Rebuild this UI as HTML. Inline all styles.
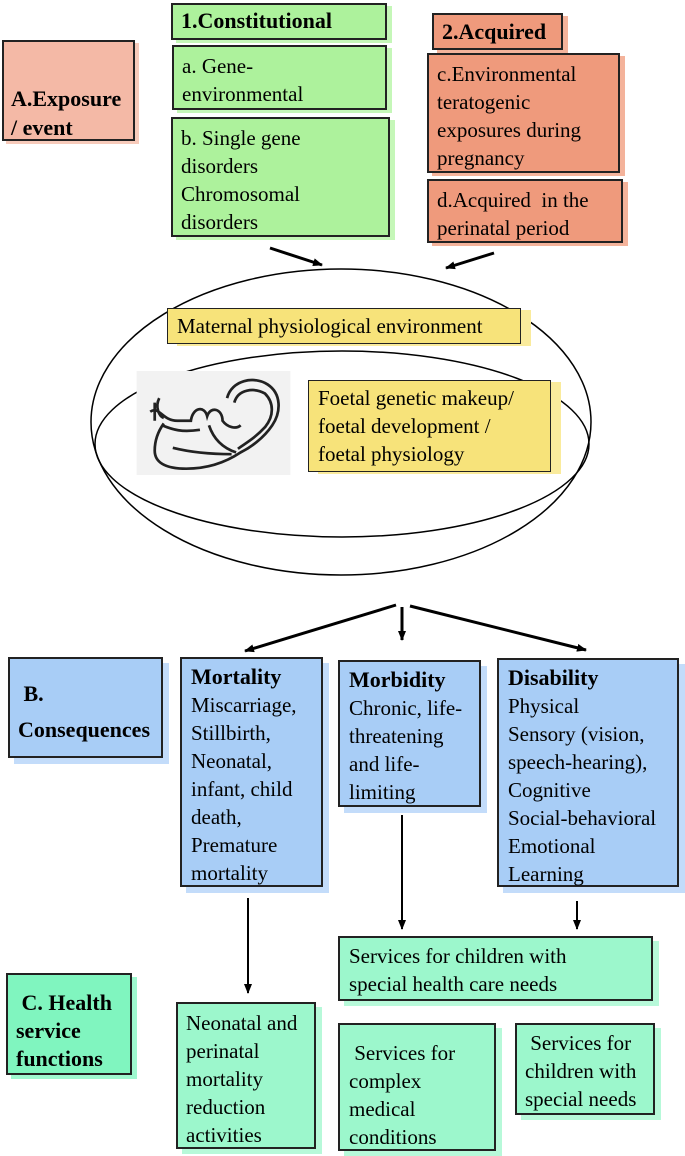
<!DOCTYPE html>
<html><head><meta charset="utf-8"><style>
body{margin:0;width:685px;height:1156px;background:#fff;position:relative;overflow:hidden;font-family:"Liberation Serif",serif;}
.b{position:absolute;box-sizing:border-box;border:2px solid #222;font-size:21px;line-height:28px;color:#000;padding:4px 0 0 12px;white-space:nowrap;}
.bold{font-weight:bold;font-size:22px;}
b{font-size:22px;}
.pk{background:#f4b9a6;box-shadow:4px 3px 0 #f7cbbb;}
.gr{background:#adf29c;box-shadow:5px 3px 0 #c5f7b8;}
.or{background:#ef9a7c;box-shadow:5px 3px 0 #f4b39b;}
.bl{background:#a8cdf6;box-shadow:6px 6px 0 #c3dcfa;}
.mg{background:#9cf7cc;box-shadow:6px 5px 0 #b7f9d9;}
.cg{background:#80f5bf;box-shadow:5px 4px 0 #9ff8cf;}
.yl{background:#f7e37a;box-shadow:10px 2px 0 #faeb9c;}
svg{position:absolute;left:0;top:0;}
</style></head><body>
<svg width="685" height="1156">
<defs><marker id="ah" markerWidth="10" markerHeight="8" refX="9" refY="4" orient="auto" markerUnits="userSpaceOnUse"><path d="M0,0 L10,4 L0,8 z" fill="#000"/></marker></defs>
<ellipse cx="341" cy="422" rx="250" ry="153" fill="none" stroke="#000" stroke-width="1.5"/>
<ellipse cx="342" cy="444" rx="247" ry="93" fill="none" stroke="#000" stroke-width="1.5"/>
<g stroke="#000" stroke-width="3" fill="none" marker-end="url(#ah)">
<line x1="270" y1="248" x2="322" y2="265"/>
<line x1="494" y1="253" x2="446" y2="268"/>
<line x1="396" y1="605" x2="245" y2="651"/>
<line x1="402" y1="607" x2="402" y2="640"/>
<line x1="410" y1="606" x2="586" y2="650"/>
</g>
<g stroke="#000" stroke-width="2" fill="none" marker-end="url(#ah)">
<line x1="248" y1="898" x2="248" y2="993"/>
<line x1="402" y1="815" x2="402" y2="929"/>
<line x1="577" y1="901" x2="577" y2="929"/>
</g>
</svg>
<div class="b pk bold" style="left:2px;top:40px;width:133px;height:101px;padding:42px 0 0 7px;line-height:29px">A.Exposure<br>/ event</div>
<div class="b gr bold" style="left:171px;top:3px;width:216px;height:37px;padding:2px 0 0 8px">1.Constitutional</div>
<div class="b gr" style="left:172px;top:45px;width:215px;height:65px;padding:5px 0 0 8px">a. Gene-<br>environmental</div>
<div class="b gr" style="left:171px;top:117px;width:219px;height:120px;padding:5px 0 0 8px">b. Single gene<br>disorders<br>Chromosomal<br>disorders</div>
<div class="b or bold" style="left:432px;top:13px;width:131px;height:37px;padding:3px 0 0 8px">2.Acquired</div>
<div class="b or" style="left:427px;top:53px;width:193px;height:120px;padding:5px 0 0 8px">c.Environmental<br>teratogenic<br>exposures during<br>pregnancy</div>
<div class="b or" style="left:427px;top:179px;width:196px;height:64px;padding:5px 0 0 8px">d.Acquired &nbsp;in the<br>perinatal period</div>
<div class="b yl" style="left:167px;top:308px;width:354px;height:36px;padding:3px 0 0 9px;border-width:1.5px">Maternal physiological environment</div>
<div class="b yl" style="left:308px;top:380px;width:243px;height:92px;padding:3px 0 0 9px;border-width:1.5px">Foetal genetic makeup/<br>foetal development /<br>foetal physiology</div>
<svg style="left:134px;top:371px" width="159" height="104" viewBox="0 0 170 115">
<rect width="170" height="115" fill="#f2f2f2"/>
<g fill="none" stroke="#222" stroke-width="3">
<path d="M100,30 C105,10 130,5 145,15 C160,25 160,45 150,60 C140,75 125,85 115,90 C100,100 80,108 55,108 C30,108 20,100 20,88 C20,75 25,65 30,58"/>
<path d="M108,35 C112,20 130,18 142,25 C152,35 152,50 142,62 C130,75 120,80 112,86"/>
<path d="M15,45 C25,38 28,55 45,55 L60,55 C62,40 75,38 78,50 C82,38 95,42 95,55 C100,62 110,65 115,60"/>
<path d="M20,35 L20,55 M28,60 C40,65 50,68 70,65 M80,60 C85,75 95,85 110,90"/>
<path d="M40,85 C60,90 80,92 105,92"/>
<path d="M25,30 C20,40 25,50 30,52"/>
</g>
</svg>
<div class="b bl bold" style="left:8px;top:657px;width:155px;height:101px;padding:17px 0 0 8px;line-height:36px">&nbsp;B.<br>Consequences</div>
<div class="b bl" style="left:180px;top:657px;width:143px;height:230px;padding:4px 0 0 9px"><b>Mortality</b><br>Miscarriage,<br>Stillbirth,<br>Neonatal,<br>infant, child<br>death,<br>Premature<br>mortality</div>
<div class="b bl" style="left:338px;top:660px;width:143px;height:147px;padding:4px 0 0 9px"><b>Morbidity</b><br>Chronic, life-<br>threatening<br>and life-<br>limiting</div>
<div class="b bl" style="left:497px;top:658px;width:182px;height:229px;padding:4px 0 0 9px"><b>Disability</b><br>Physical<br>Sensory (vision,<br>speech-hearing),<br>Cognitive<br>Social-behavioral<br>Emotional<br>Learning</div>
<div class="b mg" style="left:338px;top:936px;width:315px;height:65px;padding:4px 0 0 9px">Services for children with<br>special health care needs</div>
<div class="b cg bold" style="left:6px;top:973px;width:126px;height:102px;padding:14px 0 0 8px">&nbsp;C. Health<br>service<br>functions</div>
<div class="b mg" style="left:176px;top:1002px;width:140px;height:147px;padding:5px 0 0 8px">Neonatal and<br>perinatal<br>mortality<br>reduction<br>activities</div>
<div class="b mg" style="left:338px;top:1023px;width:158px;height:128px;padding:14px 0 0 9px">&nbsp;Services for<br>complex<br>medical<br>conditions</div>
<div class="b mg" style="left:515px;top:1023px;width:140px;height:92px;padding:4px 0 0 8px">&nbsp;Services for<br>children with<br>special needs</div>
</body></html>
